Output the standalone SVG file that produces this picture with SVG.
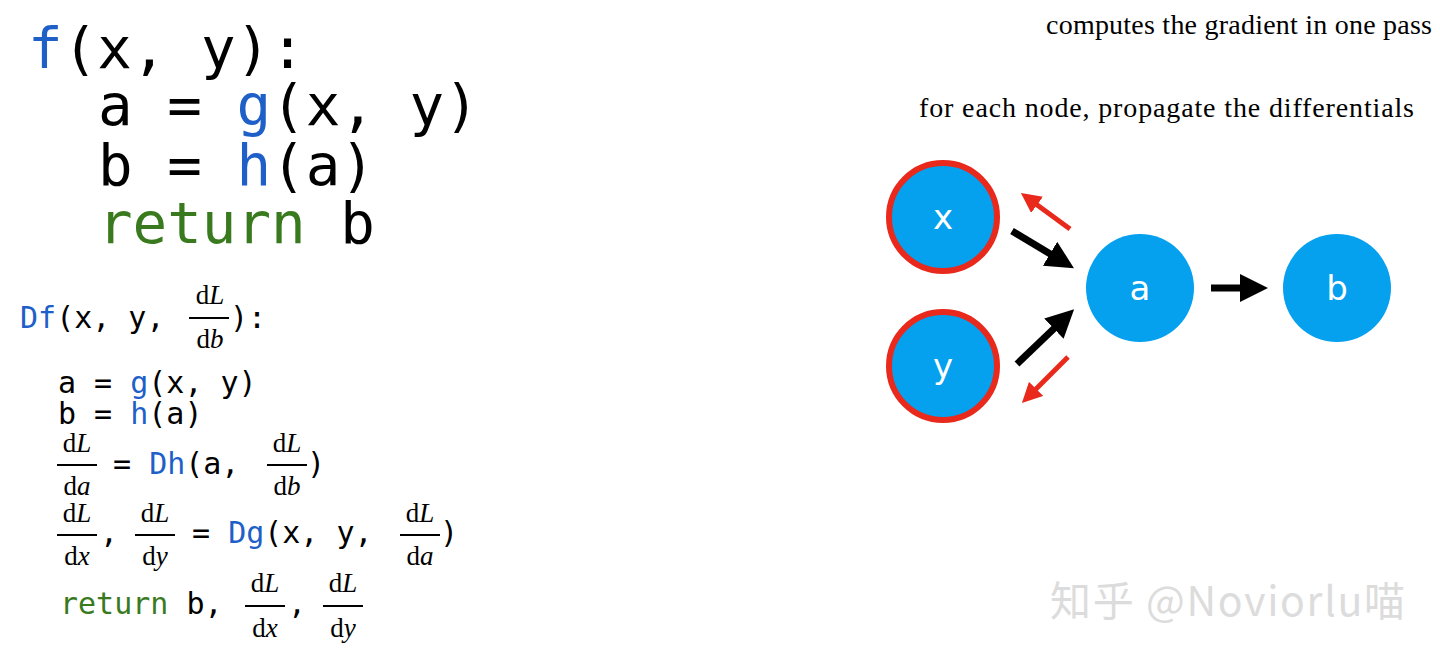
<svg xmlns="http://www.w3.org/2000/svg" width="1440" height="658" viewBox="0 0 1440 658">
<defs>
<marker id="ab" markerWidth="4" markerHeight="4" refX="2" refY="2" orient="auto" markerUnits="strokeWidth"><path d="M0,0 L4,2 L0,4 Z" fill="#000"/></marker>
<marker id="ar" markerWidth="4" markerHeight="4" refX="2" refY="2" orient="auto" markerUnits="strokeWidth"><path d="M0,0 L4,2 L0,4 Z" fill="#e8291c"/></marker>
<style>
.m{font-family:"DejaVu Sans Mono",monospace;fill:#000}
.big{font-size:57.5px}
.sm{font-size:30px}
.bl{fill:#1f5fc8}
.gr{fill:#3a7a1f}
.f{font-family:"Liberation Serif",serif;font-size:27px;text-anchor:middle}
.i{font-style:italic}
.bar{stroke:#000;stroke-width:2}
.cap{font-family:"Liberation Serif",serif;font-size:28px;fill:#000}
.nd{fill:#05a0ee}
.rd{stroke:#e8291c;stroke-width:6}
.lab{font-family:"DejaVu Sans",sans-serif;font-size:34px;fill:#fff;text-anchor:middle}
</style>
</defs>
<rect width="1440" height="658" fill="#fff"/>
<g id="code-top" class="m big">
<text x="28" y="68"><tspan class="bl">f</tspan>(x, y):</text>
<text x="98" y="125">a = <tspan class="bl">g</tspan>(x, y)</text>
<text x="98" y="185">b = <tspan class="bl">h</tspan>(a)</text>
<text x="98" y="243"><tspan class="gr">return</tspan> b</text>
</g>
<g id="code-bottom">
<text class="m sm" x="20" y="328"><tspan class="bl">Df</tspan>(x, y,</text>
<text class="f" x="210" y="304">d<tspan class="i">L</tspan></text><line class="bar" x1="189" y1="318" x2="229" y2="318"/><text class="f" x="210" y="348">d<tspan class="i">b</tspan></text>
<text class="m sm" x="230" y="328">):</text>
<text class="m sm" x="58" y="393">a = <tspan class="bl">g</tspan>(x, y)</text>
<text class="m sm" x="58" y="424">b = <tspan class="bl">h</tspan>(a)</text>
<text class="f" x="77" y="452">d<tspan class="i">L</tspan></text><line class="bar" x1="57" y1="465" x2="97" y2="465"/><text class="f" x="77" y="495">d<tspan class="i">a</tspan></text>
<text class="m sm" x="113" y="474">= <tspan class="bl">Dh</tspan>(a,</text>
<text class="f" x="287" y="452">d<tspan class="i">L</tspan></text><line class="bar" x1="267" y1="465" x2="307" y2="465"/><text class="f" x="287" y="495">d<tspan class="i">b</tspan></text>
<text class="m sm" x="307" y="474">)</text>
<text class="f" x="77" y="522">d<tspan class="i">L</tspan></text><line class="bar" x1="57" y1="535" x2="97" y2="535"/><text class="f" x="77" y="565">d<tspan class="i">x</tspan></text>
<text class="m sm" x="100" y="543">,</text>
<text class="f" x="155" y="522">d<tspan class="i">L</tspan></text><line class="bar" x1="135" y1="535" x2="175" y2="535"/><text class="f" x="155" y="565">d<tspan class="i">y</tspan></text>
<text class="m sm" x="192" y="543">= <tspan class="bl">Dg</tspan>(x, y,</text>
<text class="f" x="420" y="522">d<tspan class="i">L</tspan></text><line class="bar" x1="400" y1="535" x2="440" y2="535"/><text class="f" x="420" y="565">d<tspan class="i">a</tspan></text>
<text class="m sm" x="440" y="543">)</text>
<text class="m sm" x="60" y="614"><tspan class="gr">return</tspan> b,</text>
<text class="f" x="265" y="592">d<tspan class="i">L</tspan></text><line class="bar" x1="245" y1="606" x2="285" y2="606"/><text class="f" x="265" y="637">d<tspan class="i">x</tspan></text>
<text class="m sm" x="288" y="614">,</text>
<text class="f" x="343" y="592">d<tspan class="i">L</tspan></text><line class="bar" x1="323" y1="606" x2="363" y2="606"/><text class="f" x="343" y="637">d<tspan class="i">y</tspan></text>
</g>
<text class="cap" x="1046" y="34" textLength="386">computes the gradient in one pass</text>
<text class="cap" x="919" y="117" textLength="495">for each node, propagate the differentials</text>
<g id="connectors">
<line x1="1012" y1="231" x2="1062" y2="261" stroke="#000" stroke-width="7" marker-end="url(#ab)"/>
<line x1="1017" y1="364" x2="1064" y2="319" stroke="#000" stroke-width="7" marker-end="url(#ab)"/>
<line x1="1211" y1="288" x2="1254" y2="288" stroke="#000" stroke-width="7" marker-end="url(#ab)"/>
<line x1="1070" y1="229" x2="1029" y2="199" stroke="#e8291c" stroke-width="5" marker-end="url(#ar)"/>
<line x1="1068" y1="357" x2="1029" y2="396" stroke="#e8291c" stroke-width="5" marker-end="url(#ar)"/>
</g>
<g id="node-x"><circle class="nd rd" cx="943" cy="217" r="54"/><text class="lab" x="943" y="229">x</text></g>
<g id="node-y"><circle class="nd rd" cx="943" cy="366" r="54"/><text class="lab" x="943" y="378">y</text></g>
<g id="node-a"><circle class="nd" cx="1140" cy="288" r="54"/><text class="lab" x="1140" y="300">a</text></g>
<g id="node-b"><circle class="nd" cx="1337" cy="288" r="54"/><text class="lab" x="1337" y="300">b</text></g>
<text x="1050" y="616" font-family="'Noto Sans CJK SC',sans-serif" font-size="41" fill="#dcdcdc" textLength="355">知乎 @Noviorlu喵</text>
</svg>
